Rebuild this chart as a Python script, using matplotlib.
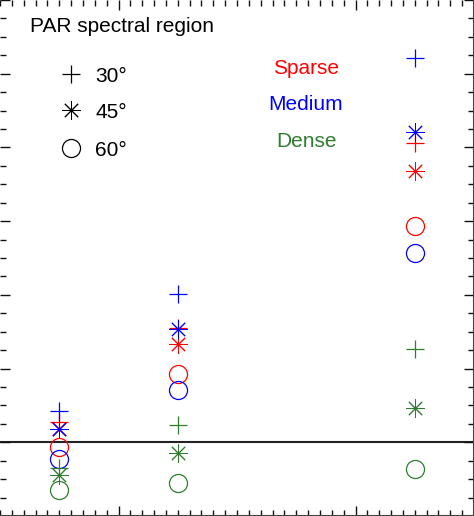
import matplotlib
matplotlib.use("Agg")
import matplotlib.pyplot as plt
from matplotlib.ticker import MultipleLocator, FixedLocator, NullFormatter

plt.rcParams['font.family'] = ['Liberation Sans', 'DejaVu Sans']

# ---- data ----
angles = ['30°', '45°', '60°']
densities = ['Sparse', 'Medium', 'Dense']
group_x = [5, 15, 35]

sparse_30 = [0.28, 1.55, 4.06]
sparse_45 = [0.18, 1.33, 3.68]
sparse_60 = [-0.07, 0.93, 2.93]
medium_30 = [0.42, 2.01, 5.21]
medium_45 = [0.18, 1.54, 4.21]
medium_60 = [-0.22, 0.71, 2.57]
dense_30 = [-0.35, 0.24, 1.27]
dense_45 = [-0.45, -0.14, 0.47]
dense_60 = [-0.65, -0.55, -0.36]

series = {
    'Sparse': [sparse_30, sparse_45, sparse_60],
    'Medium': [medium_30, medium_45, medium_60],
    'Dense': [dense_30, dense_45, dense_60],
}
colors = {'Sparse': '#ff0000', 'Medium': '#0000ff', 'Dense': '#2f7d2f'}
markers = ['+', (8, 2, 0), 'o']
msizes = [13, 13.5, 13]
mews = [0.9, 0.7, 0.9]

W, H = 474, 516
fig = plt.figure(figsize=(W / 100, H / 100), dpi=100)
ax = fig.add_axes([0, 0, 1, 1])
ax.set_xlim(0, 40)
ax.set_ylim(-1, 6)

ax.axhline(0, color='#222222', lw=1.5, zorder=1)

for d in densities:
    for i, vals in enumerate(series[d]):
        ax.plot(group_x, vals, linestyle='none', marker=markers[i],
                markersize=msizes[i], markerfacecolor='none',
                markeredgecolor=colors[d], markeredgewidth=mews[i], zorder=3)
        if i == 1:
            ax.plot(group_x, vals, linestyle='none', marker='o', markersize=1.8,
                    color=colors[d], markeredgewidth=0, zorder=3)

# ---- annotations (pixel positions converted to axes fraction) ----
def fx(px):
    return px / W

def fy(py):
    return 1 - py / H

ax.text(fx(30), fy(32), 'PAR spectral region', transform=ax.transAxes,
        fontsize=15, ha='left', va='baseline', color='black')

leg_y = [73.5, 110.5, 147.5]
leg_base = [81.5, 118.5, 155.5]
for i, a in enumerate(angles):
    ax.plot([fx(70.5)], [fy(leg_y[i])], transform=ax.transAxes, linestyle='none',
            marker=markers[i], markersize=msizes[i], markerfacecolor='none',
            markeredgecolor='black', markeredgewidth=mews[i], clip_on=False)
    if i == 1:
        ax.plot([fx(70.5)], [fy(leg_y[i])], transform=ax.transAxes, linestyle='none',
                marker='o', markersize=1.8, color='black', markeredgewidth=0)
    ax.text(fx(95), fy(leg_base[i]), a, transform=ax.transAxes, fontsize=15,
            ha='left', va='baseline', color='black')

dens_base = [73.5, 110.5, 147]
for i, d in enumerate(densities):
    ax.text(fx(306), fy(dens_base[i]), d, transform=ax.transAxes, fontsize=15,
            ha='center', va='baseline', color=colors[d])

# ---- axes styling ----
ax.xaxis.set_major_locator(FixedLocator([10, 30]))
ax.xaxis.set_minor_locator(MultipleLocator(1))
ax.yaxis.set_major_locator(MultipleLocator(1))
ax.yaxis.set_minor_locator(MultipleLocator(0.25))
ax.xaxis.set_major_formatter(NullFormatter())
ax.yaxis.set_major_formatter(NullFormatter())
ax.tick_params(which='both', direction='in', top=True, right=True,
               bottom=True, left=True, color='#111111', width=1.0,
               labelbottom=False, labelleft=False)
ax.tick_params(which='major', length=7)
ax.tick_params(which='minor', length=4)
ax.spines['left'].set_visible(False)
ax.spines['top'].set_visible(False)
for s in ['right', 'bottom']:
    ax.spines[s].set_color('#444444')
    ax.spines[s].set_linewidth(1.5)

fig.savefig('out.png', dpi=100)
